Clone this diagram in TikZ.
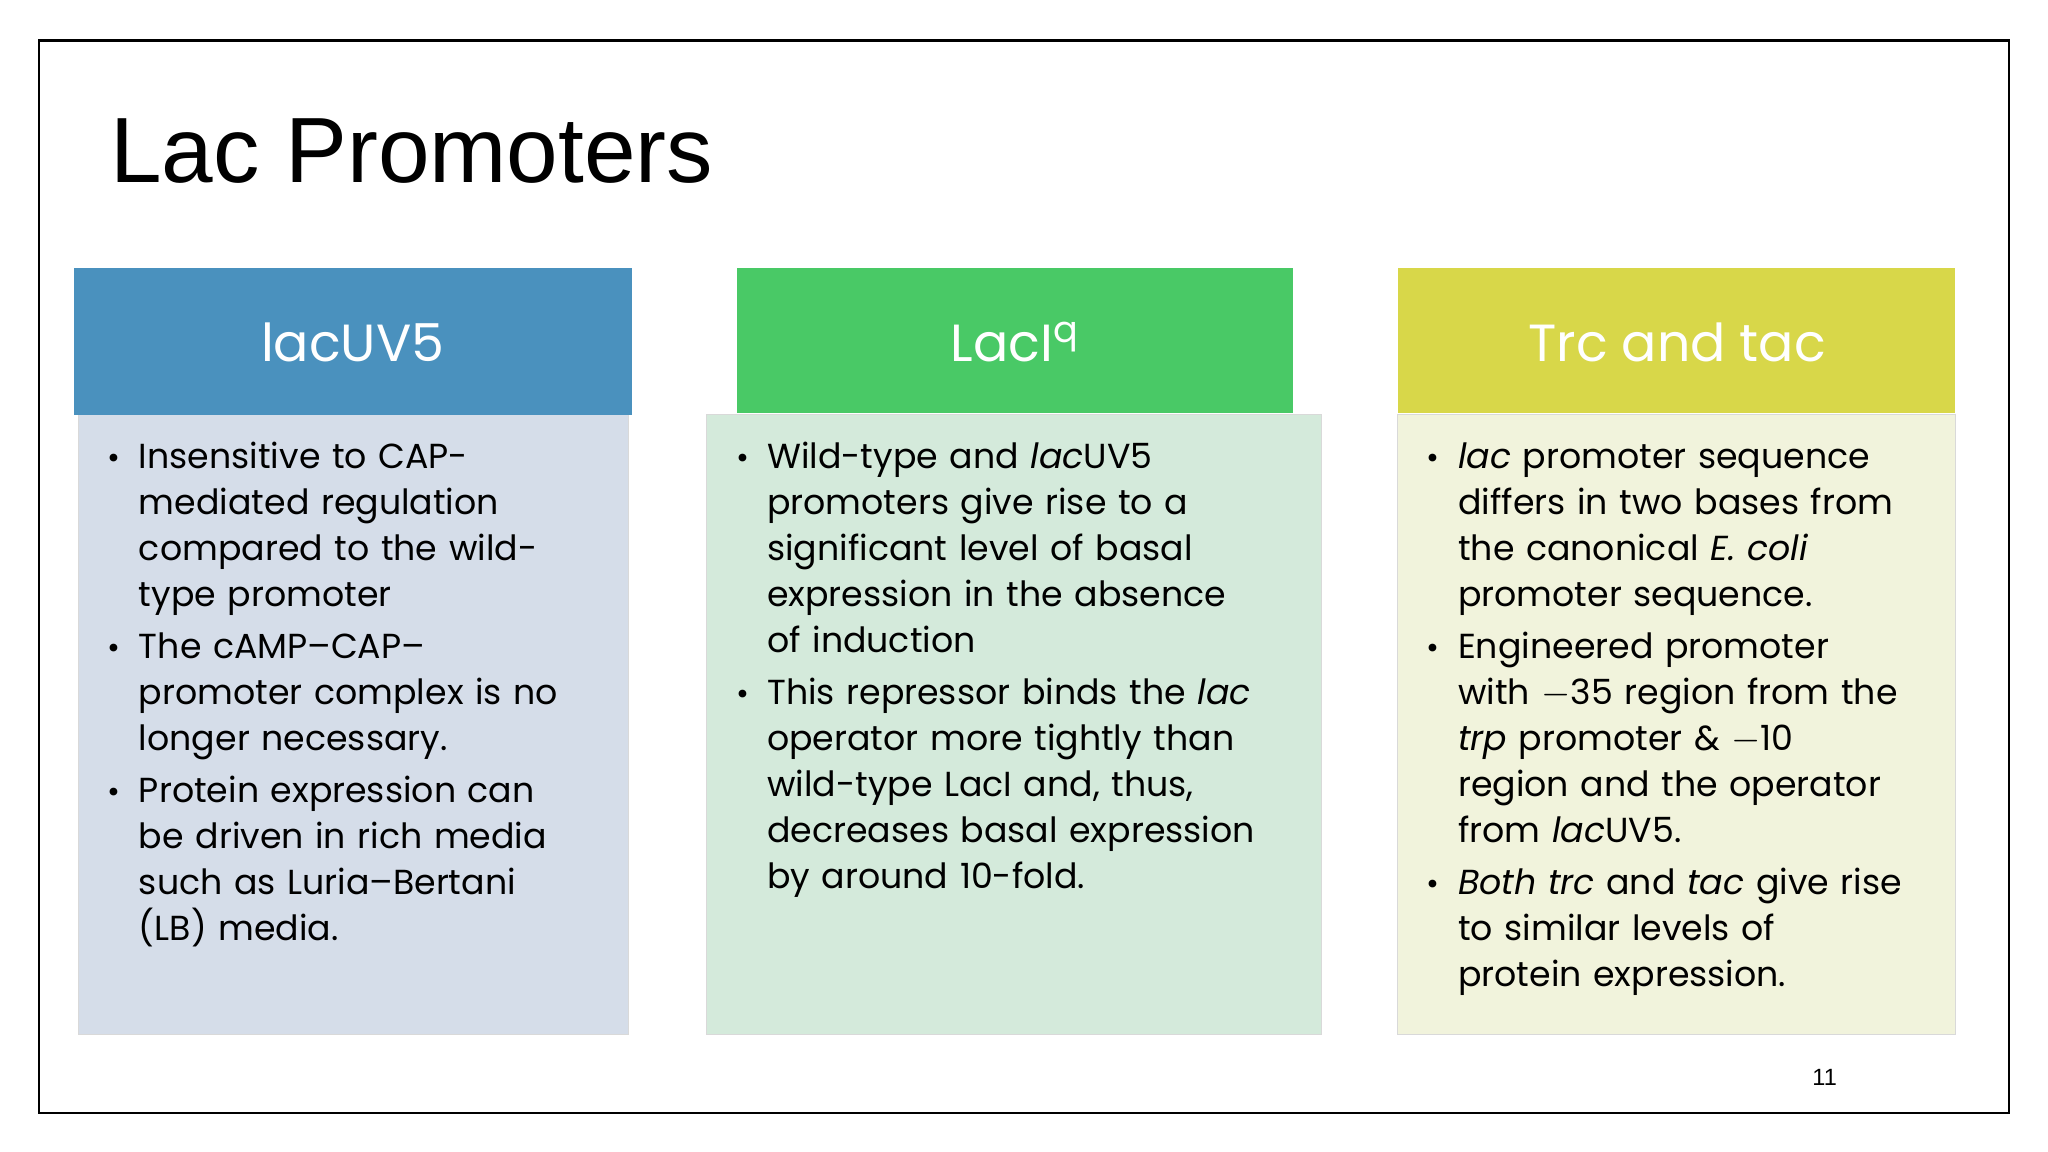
\documentclass[tikz,border=0pt]{standalone}
\usepackage{fontspec}
\setmainfont{Poppins}
\newfontfamily\titlefont{Liberation Sans}
\usepackage{enumitem}
\definecolor{hblue}{HTML}{4A91BE}
\definecolor{bblue}{HTML}{D5DDE9}
\definecolor{hgreen}{HTML}{49C966}
\definecolor{bgreen}{HTML}{D4EADB}
\definecolor{hyellow}{HTML}{D8D749}
\definecolor{byellow}{HTML}{F1F3DC}
\newcommand{\bl}[1]{\begin{itemize}[leftmargin=14.5pt,labelsep=7pt,itemsep=2.3pt,topsep=0pt,parsep=0pt,label={\large\textbullet}]#1\end{itemize}}
\tikzset{
  hdr/.style={draw=none,fill=#1},
  bdy/.style={draw=black!15,fill=#1},
  htxt/.style={text=white,font=\fontsize{20}{24}\selectfont},
  btxt/.style={anchor=north west,inner sep=0pt,text width=240pt,align=left,font=\fontsize{13.3}{17.6}\selectfont}
}
\begin{document}
\begin{tikzpicture}[x=0.5pt,y=-0.5pt]
\useasboundingbox (0,0) rectangle (1568,882);
\fill[white] (0,0) rectangle (1568,882);
\draw[line width=1pt] (30,31) rectangle (1538,852);
\node[anchor=base west,inner sep=0pt,font=\titlefont\fontsize{35.5}{40}\selectfont] (title) at (84,140) {Lac Promoters};
% left
\draw[bdy=bblue] (60,317) rectangle (481,792);
\fill[hblue] (57,205) rectangle (484,318);
\node[htxt] (h1) at (270,262) {lacUV5};
\node[btxt] (b1) at (77,323) {\bl{\item Insensitive to CAP-\\mediated regulation\\compared to the wild-\\type promoter
\item The cAMP--CAP--\\promoter complex is no\\longer necessary.
\item Protein expression can\\be driven in rich media\\such as Luria--Bertani\\(LB) media.}};
% middle
\draw[bdy=bgreen] (541,317) rectangle (1012,792);
\fill[hgreen] (564,205) rectangle (990,316);
\node[htxt] (h2) at (777,262) {LacI\textsuperscript{q}};
\node[btxt] (b2) at (558,323) {\bl{\item Wild-type and \textit{lac}UV5\\promoters give rise to a\\significant level of basal\\expression in the absence\\of induction
\item This repressor binds the \textit{lac}\\operator more tightly than\\wild-type LacI and, thus,\\decreases basal expression\\by around 10-fold.}};
% right
\draw[bdy=byellow] (1070,317) rectangle (1497,792);
\fill[hyellow] (1070,205) rectangle (1497,316);
\node[htxt] (h3) at (1284,262) {Trc and tac};
\node[btxt] (b3) at (1087,323) {\bl{\item \textit{lac} promoter sequence\\differs in two bases from\\the canonical \textit{E. coli}\\promoter sequence.
\item Engineered promoter\\with $-$35 region from the\\\textit{trp} promoter \& $-$10\\region and the operator\\from \textit{lac}UV5.
\item \textit{Both trc} and \textit{tac} give rise\\to similar levels of\\protein expression.}};
\node[font=\titlefont\fontsize{9}{10}\selectfont] (pg) at (1397,825) {11};
\end{tikzpicture}
\end{document}
